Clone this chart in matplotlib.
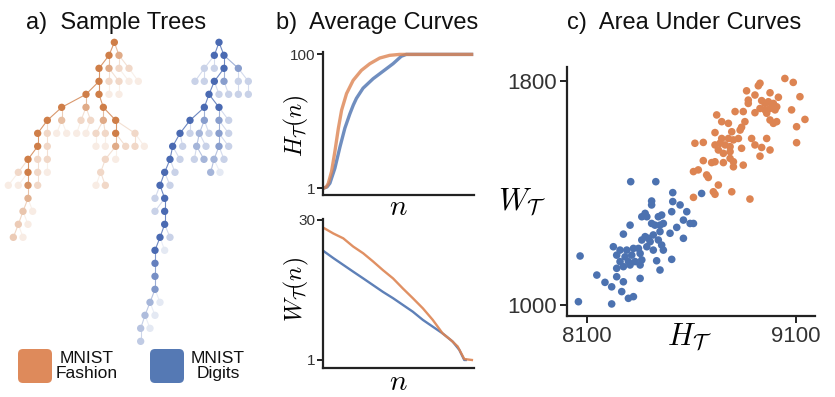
import matplotlib
matplotlib.use("Agg")
import matplotlib.pyplot as plt
import numpy as np
from matplotlib.patches import FancyBboxPatch
from matplotlib.colors import to_rgb

plt.rcParams['font.family'] = ['Liberation Sans', 'DejaVu Sans']
plt.rcParams['mathtext.fontset'] = 'cm'

# ---------------- data ----------------
ORANGE = "#DD8452"
BLUE = "#4C72B0"
TREE_ORANGE = "#CF7E48"
TREE_BLUE = "#4A6AB2"

# Panel a: sample trees (layout x, depth row, shade, parent index)
o_x = [343, 327, 357, 297, 327, 357, 387, 297, 327, 357, 387, 415, 258, 297, 327, 357,
       185, 258, 310, 142, 185, 243, 272, 310, 347, 113, 142, 170, 200, 230, 258, 288,
       316, 347, 405, 113, 142, 288, 316, 347, 377, 405, 433, 84, 113, 142, 316, 347,
       55, 84, 113, 142, 302, 25, 55, 84, 113, 288, 316, 84, 69, 98, 55, 84, 40, 69]
o_row = [0, 1, 1, 2, 2, 2, 2, 3, 3, 3, 3, 3, 4, 4, 4, 4, 5, 5, 5, 6, 6, 6, 6, 6, 6,
         7, 7, 7, 7, 7, 7, 7, 7, 7, 7, 8, 8, 8, 8, 8, 8, 8, 8, 9, 9, 9, 9, 9,
         10, 10, 10, 10, 10, 11, 11, 11, 11, 11, 11, 12, 13, 13, 14, 14, 15, 15]
o_par = [-1, 0, 0, 1, 1, 2, 2, 3, 4, 4, 5, 6, 7, 7, 8, 9, 12, 12, 13, 16, 16, 17, 17,
         18, 18, 19, 19, 20, 20, 21, 22, 23, 23, 24, 24, 25, 26, 31, 32, 33, 33, 34,
         34, 35, 35, 36, 39, 39, 43, 43, 44, 45, 46, 48, 49, 49, 50, 52, 52, 55, 59,
         59, 60, 60, 62, 62]
o_shade = [1, 1, .65, 1, .65, .3, .3, 1, .3, .3, .15, .15, 1, 1, .15, .15, 1, .65, 1,
           1, .5, .3, .3, .65, 1, 1, .3, .15, .15, .15, .15, .3, .3, 1, .3, 1, .3, .15,
           .15, .65, .3, .3, .15, 1, .3, .3, .3, .15, .3, 1, .3, .15, .3, .15, .15, .85,
           .3, .15, .3, .6, .45, .15, .4, .15, .4, .15]

b_x = [657, 643, 672, 613, 643, 672, 715, 585, 613, 643, 672, 715, 745, 627, 657, 686,
       715, 745, 613, 657, 570, 613, 657, 686, 540, 570, 598, 627, 657, 686, 518, 548,
       590, 618, 657, 686, 510, 540, 583, 612, 642, 672, 494, 525, 632, 660, 480, 510,
       465, 494, 465, 494, 494, 480, 510, 465, 494, 465, 465, 465, 450, 480, 435, 465,
       422, 450, 422]
b_row = [0, 1, 1, 2, 2, 2, 2, 3, 3, 3, 3, 3, 3, 4, 4, 4, 4, 4, 5, 5, 6, 6, 6, 6,
         7, 7, 7, 7, 7, 7, 8, 8, 8, 8, 8, 8, 9, 9, 9, 9, 9, 9, 10, 10, 10, 10,
         11, 11, 12, 12, 13, 13, 14, 15, 15, 16, 16, 17, 18, 19, 20, 20, 21, 21,
         22, 22, 23]
b_par = [-1, 0, 0, 1, 1, 2, 2, 3, 3, 5, 5, 6, 6, 9, 9, 10, 11, 12, 13, 13, 18, 18, 19,
         19, 20, 20, 21, 21, 22, 22, 24, 24, 26, 26, 28, 28, 30, 30, 32, 32, 34, 34,
         36, 36, 40, 40, 42, 42, 46, 46, 49, 49, 51, 52, 52, 53, 53, 55, 57, 58, 59,
         59, 60, 60, 62, 62, 64]
b_shade = [1, 1, 1, .3, .3, 1, .65, .3, .3, 1, .65, .3, .3, 1, .3, .3, .3, .3, 1, 1,
           1, .65, .65, .3, 1, .3, .5, .3, .65, .3, 1, .3, .5, .3, .65, .3, 1, .3, .3,
           .5, .5, .3, 1, .3, .5, .15, 1, .3, .3, 1, .3, 1, 1, 1, .3, 1, .15, .85, .75,
           .7, .5, .15, .45, .15, .4, .15, .35]

# Panel b: average curves
h_n_orange = [0, 2, 3.3, 5.5, 7.7, 10, 12.2, 15.5, 19.9, 25.4, 31, 37.6, 44.2, 50.9, 100]
h_orange = [1, 2, 4.5, 13.3, 28, 45, 58.7, 71, 80.8, 88.2, 93.1, 97.3, 99.3, 100, 100]
h_n_blue = [0, 2.5, 4.4, 7.7, 11.1, 14.4, 17.7, 20, 22.1, 26.5, 33.2, 39.8, 46.5, 52,
            55.3, 100]
h_blue = [1, 2, 4.7, 15.7, 31.5, 45.5, 56, 62.5, 67.5, 75, 82, 87.5, 93.1, 98.6, 100, 100]

w_n_orange = [0, 6.7, 13.3, 19.9, 26.6, 33.2, 39.8, 46.5, 53.1, 59.7, 66.4, 73, 79.6,
              85.2, 89.6, 94, 99.1]
w_orange = [28.4, 27.2, 26.2, 24.5, 23.1, 21.4, 19.6, 17.9, 15.8, 13.8, 11.7, 9.3, 6.5,
            5.1, 3.8, 1.2, 1]
w_n_blue = [0, 6.7, 13.3, 19.9, 26.6, 33.2, 39.8, 46.5, 53.1, 59.7, 66.4, 73, 79.6,
            86.3, 90.7, 94, 95]
w_blue = [23.6, 22.1, 20.7, 19.3, 17.9, 16.5, 15.1, 13.8, 12.4, 11, 9.3, 7.9, 6.5,
          4.8, 3.1, 1, 1]

# Panel c: area under curves
blue_H = [8310, 8430, 8511, 8649, 8410, 8410, 8511, 8546, 8506, 8578, 8379, 8363, 8387,
          8442, 8458, 8562, 8594, 8610, 8307, 8410, 8426, 8450, 8466, 8530, 8275, 8379,
          8395, 8418, 8450, 8498, 8562, 8363, 8403, 8442, 8458, 8227, 8259, 8291, 8323,
          8347, 8387, 8418, 8466, 8243, 8283, 8315, 8355, 8068, 8259, 8299, 8331, 8363,
          8434, 8506, 8243, 8275, 8307, 8355, 8450, 8148, 8243, 8355, 8187, 8275, 8219,
          8267, 8299, 8323, 8060, 8219]
blue_W = [1440, 1440, 1401, 1398, 1371, 1357, 1369, 1357, 1333, 1333, 1327, 1315, 1315,
          1315, 1321, 1303, 1291, 1291, 1285, 1291, 1285, 1285, 1291, 1277, 1253, 1244,
          1238, 1250, 1262, 1256, 1238, 1232, 1226, 1232, 1214, 1208, 1196, 1196, 1202,
          1202, 1208, 1196, 1196, 1178, 1172, 1178, 1184, 1175, 1155, 1155, 1155, 1161,
          1158, 1163, 1131, 1137, 1143, 1143, 1125, 1107, 1101, 1095, 1081, 1083, 1065,
          1048, 1024, 1030, 1012, 1004]
orange_H = [9047, 9087, 8928, 8920, 8864, 8904, 8976, 9016, 9119, 8872, 8936, 8952, 8968,
            8992, 9008, 8872, 8928, 8952, 8976, 9000, 9079, 8809, 8848, 8904, 8960, 9143,
            8721, 8745, 8777, 8856, 8976, 9008, 8992, 8840, 8833, 9103, 8793, 8713, 8745,
            8777, 8801, 8825, 8888, 8960, 8617, 8657, 8713, 8737, 8761, 8785, 8840, 8904,
            8936, 8976, 9103, 8729, 8753, 8785, 8928, 8657, 8697, 8713, 8753, 8801, 8785,
            8848, 8801, 8610, 8633, 8673, 8681, 8729, 8705, 8713, 8793, 8610, 8880]
orange_W = [1808, 1794, 1791, 1782, 1764, 1749, 1757, 1741, 1743, 1731, 1729, 1719, 1725,
            1719, 1707, 1719, 1701, 1696, 1701, 1696, 1696, 1690, 1690, 1686, 1684, 1662,
            1678, 1654, 1648, 1654, 1660, 1654, 1648, 1634, 1624, 1636, 1618, 1615, 1594,
            1594, 1589, 1594, 1594, 1594, 1577, 1580, 1571, 1577, 1571, 1565, 1559, 1571,
            1562, 1553, 1579, 1553, 1541, 1547, 1531, 1515, 1508, 1511, 1508, 1511, 1523,
            1499, 1493, 1476, 1482, 1464, 1455, 1428, 1404, 1395, 1404, 1384, 1378]

legend_labels = ["MNIST\nFashion", "MNIST\nDigits"]
titles = ["a)  Sample Trees", "b)  Average Curves", "c)  Area Under Curves"]

# ---------------- figure ----------------
W_PX, H_PX = 835, 397
fig = plt.figure(figsize=(W_PX / 100, H_PX / 100), dpi=100)
fig.patch.set_facecolor("white")


def fr(x, y, w, h):
    """pixel box (left, top, width, height) -> figure fraction rect"""
    return [x / W_PX, 1 - (y + h) / H_PX, w / W_PX, h / H_PX]


def shade(base, a):
    b = np.array(to_rgb(base))
    return tuple(1 - a * (1 - b))


# overlay for text / legend
ov = fig.add_axes([0, 0, 1, 1])
ov.set_xlim(0, W_PX)
ov.set_ylim(H_PX, 0)
ov.axis("off")

# panel a trees
axa = fig.add_axes(fr(0, 0, 280, 397))
axa.set_xlim(0, 840)
axa.set_ylim(1191, 0)
axa.axis("off")


def draw_tree(ax, xs, rows, shades, parents, base):
    ys = [127 + 39 * r for r in rows]
    order = np.argsort(shades)
    for i in order:
        p = parents[i]
        if p >= 0:
            ax.plot([xs[p], xs[i]], [ys[p], ys[i]], color=shade(base, shades[i] * 0.8),
                    lw=0.8, zorder=1 + shades[i], solid_capstyle="round")
    for i in order:
        ax.scatter([xs[i]], [ys[i]], s=28, color=shade(base, shades[i]),
                   edgecolors="none", zorder=3 + shades[i])


draw_tree(axa, o_x, o_row, o_shade, o_par, TREE_ORANGE)
draw_tree(axa, b_x, b_row, b_shade, b_par, TREE_BLUE)

# legend
for (lx, col, lab, tx) in [(18, ORANGE, legend_labels[0], 87), (150, BLUE, legend_labels[1], 218)]:
    ov.add_patch(FancyBboxPatch((lx, 349), 34, 34, boxstyle="round,pad=0,rounding_size=5",
                                facecolor=col, edgecolor="none", alpha=0.95))
    ov.text(tx, 366, lab, ha="center", va="center", fontsize=12.5, linespacing=1.05,
            color="#111111")

# titles
for tx, t in zip([26, 276, 567], titles):
    ov.text(tx, 23, t, ha="left", va="center", fontsize=17, color="#111111")


def style(ax, lsize):
    for s in ["top", "right"]:
        ax.spines[s].set_visible(False)
    for s in ["left", "bottom"]:
        ax.spines[s].set_linewidth(1.6)
        ax.spines[s].set_color("#222222")
    ax.tick_params(axis="both", direction="out", length=4, width=1.4, color="#222222",
                   labelsize=lsize, labelcolor="#333333", pad=1.5)
    ax.set_facecolor("none")


# panel b top
axb1 = fig.add_axes(fr(323.3, 51.7, 150.7, 143.3))
axb1.plot(h_n_blue, h_blue, color=BLUE, lw=2.4, alpha=0.8, solid_capstyle="butt")
axb1.plot(h_n_orange, h_orange, color=ORANGE, lw=2.4, alpha=0.8, solid_capstyle="butt")
axb1.set_xlim(0, 100.5)
axb1.set_ylim(-4, 102)
axb1.set_yticks([1, 100])
axb1.set_xticks([])
style(axb1, 11)

# panel b bottom
axb2 = fig.add_axes(fr(323.3, 219, 150.7, 149))
axb2.plot(w_n_blue, w_blue, color=BLUE, lw=1.7, alpha=0.9)
axb2.plot(w_n_orange, w_orange, color=ORANGE, lw=1.7, alpha=0.9)
axb2.set_xlim(0, 100.5)
axb2.set_ylim(-0.66, 30.2)
axb2.set_yticks([1, 30])
axb2.set_xticks([])
style(axb2, 11)

ov.text(296, 126, r"$H_\mathcal{T}(n)$", rotation=90, ha="center", va="center", fontsize=17)
ov.text(398, 207, r"$n$", ha="center", va="center", fontsize=21)
ov.text(296, 290, r"$W_\mathcal{T}(n)$", rotation=90, ha="center", va="center", fontsize=17)
ov.text(398, 382, r"$n$", ha="center", va="center", fontsize=21)

# panel c
axc = fig.add_axes(fr(566.7, 66.7, 248.3, 249.3))
axc.scatter(blue_H, blue_W, s=30, color=BLUE, edgecolors="none")
axc.scatter(orange_H, orange_W, s=30, color=ORANGE, edgecolors="none")
axc.set_xlim(8004, 9191)
axc.set_ylim(961, 1850)
axc.set_xticks([8100, 9100])
axc.set_yticks([1000, 1800])
style(axc, 16)
axc.tick_params(length=5, pad=2)

ov.text(522, 202, r"$W_\mathcal{T}$", ha="center", va="center", fontsize=22)
ov.text(690, 337, r"$H_\mathcal{T}$", ha="center", va="center", fontsize=22)

fig.savefig("out.png", dpi=100, facecolor="white")
